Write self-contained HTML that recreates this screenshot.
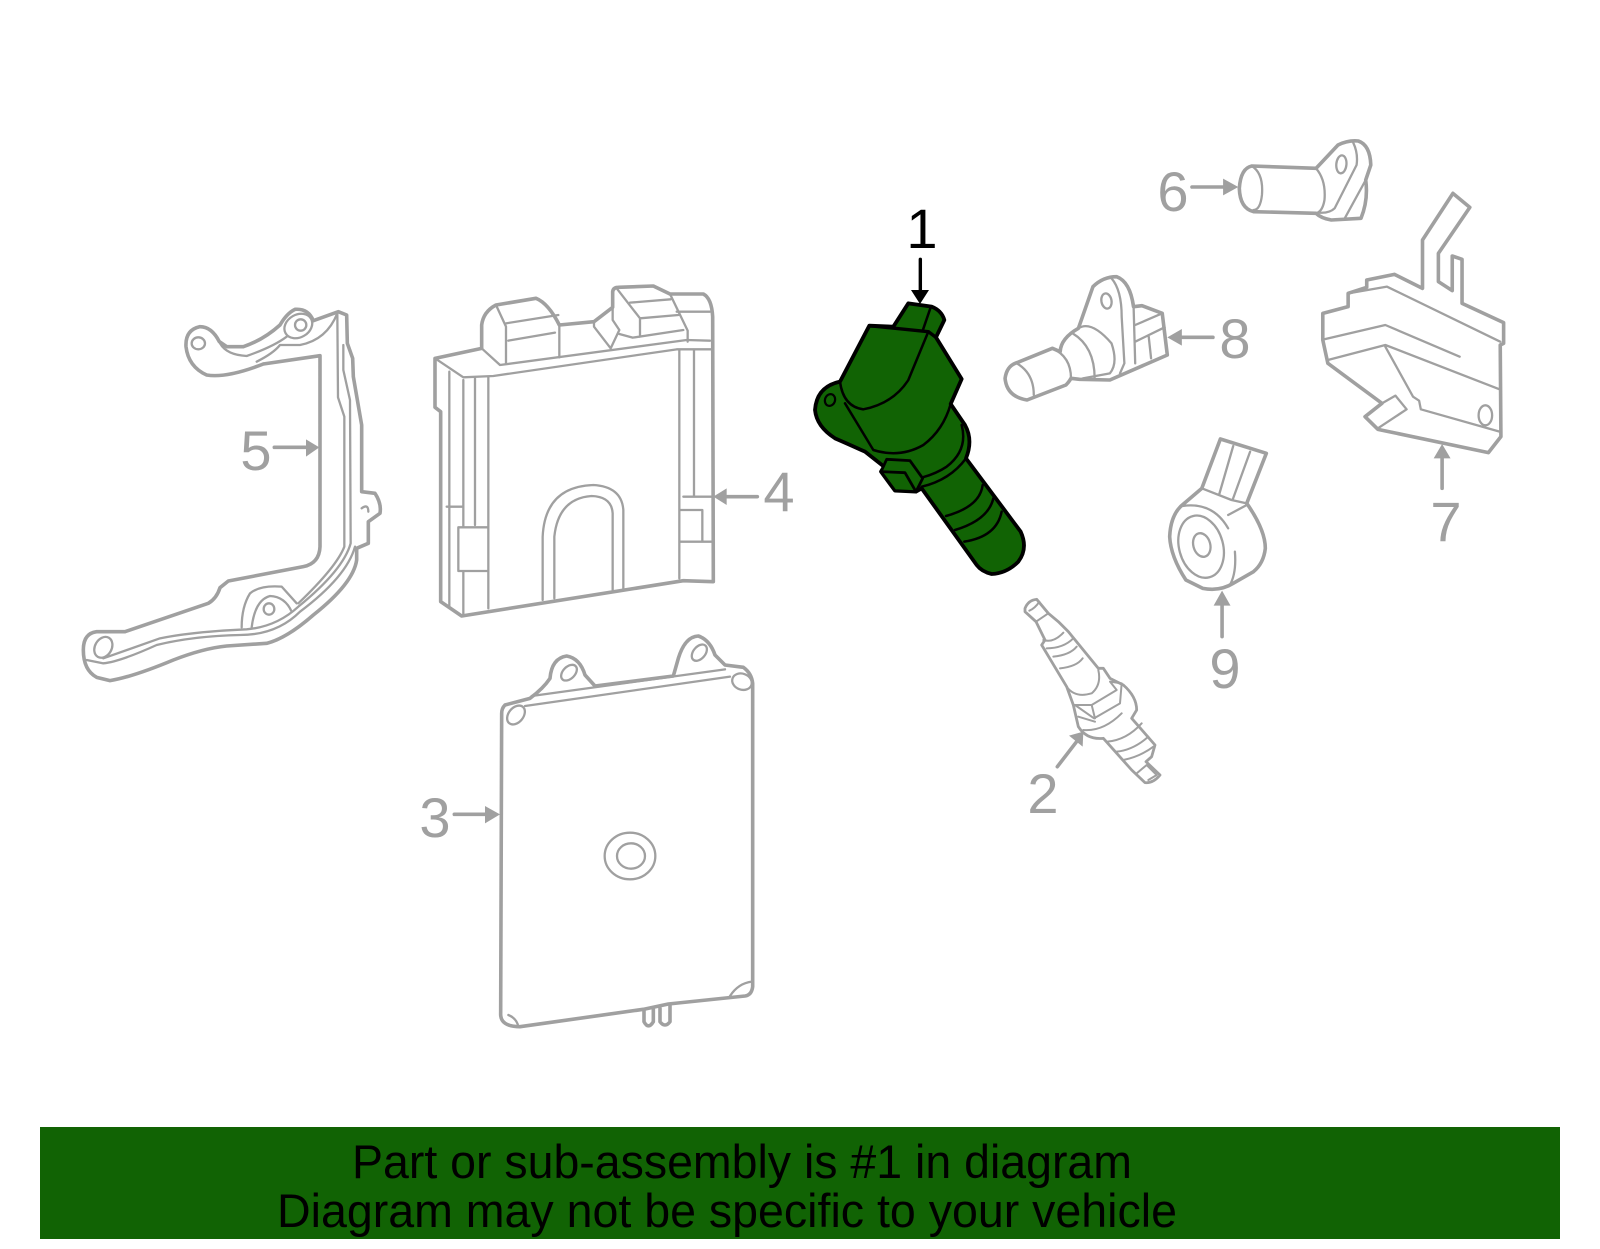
<!DOCTYPE html>
<html><head><meta charset="utf-8"><title>Diagram</title>
<style>
html,body{margin:0;padding:0;background:#fff}
svg{display:block}
text{font-family:"Liberation Sans",Arial,sans-serif}
.g path,.g ellipse{fill:none;stroke:#a0a0a0;vector-effect:non-scaling-stroke;stroke-linejoin:round;stroke-linecap:round}
.o{stroke-width:3.6px}
.i{stroke-width:2.3px}
.k path,.k ellipse{fill:none;stroke:#000;vector-effect:non-scaling-stroke;stroke-linejoin:round;stroke-linecap:round}
</style></head><body>
<svg width="1600" height="1249" viewBox="0 0 1600 1249" xmlns="http://www.w3.org/2000/svg">
<rect width="1600" height="1249" fill="#fff"/>

<!-- Part 5 -->
<g class="g" transform="translate(60,290) scale(.33333)">
<path class="o" d="M610,222 L780,197 L780,770 Q778,820 730,830 L505,873 L480,893 Q470,925 445,940 L195,1025 L110,1025 Q70,1030 70,1080 Q70,1140 110,1162 L150,1172 Q220,1160 340,1110 Q430,1075 500,1068 L620,1060 Q680,1045 760,975 Q880,880 890,810 L890,775 L925,760 L925,695 L960,670 Q965,640 945,610 L905,605 L905,405 L880,260 L878,205 L862,160 L860,75 L835,65 L760,92 Q745,55 705,58 Q680,70 660,105 Q610,150 550,170 L500,170 L478,155 Q455,110 420,110 Q375,120 378,170 Q385,230 440,255 Q500,265 610,222"/>
<path class="i" d="M832,70 L834,322 L853,380 L853,770 Q830,830 715,940"/>
<path class="i" d="M850,165 L850,240 L870,330 L872,760 Q850,840 715,950 Q650,1010 560,1018 Q400,1025 300,1045 L130,1105"/>
<path class="i" d="M885,770 Q860,860 720,965 Q650,1035 540,1035 Q400,1038 290,1065 Q180,1115 130,1120 L80,1110"/>
<path class="i" d="M480,160 Q500,195 560,198 Q640,170 680,140 M590,215 Q640,190 660,165 L720,165 Q800,150 832,70"/>
<path class="i" d="M545,1012 Q545,950 570,910 Q600,885 665,890 L710,940 M575,1012 Q585,930 630,918 Q675,920 695,965 M905,655 Q925,640 925,665"/>
<ellipse class="i" cx="415" cy="160" rx="20" ry="18"/>
<ellipse class="i" cx="722" cy="105" rx="17" ry="17"/>
<ellipse class="i" cx="715" cy="108" rx="44" ry="34" transform="rotate(-30 715 108)"/>
<ellipse class="i" cx="130" cy="1072" rx="25" ry="33" transform="rotate(30 130 1072)"/>
<ellipse class="i" cx="627" cy="957" rx="16" ry="17"/>
<path style="stroke:none;fill:#a0a0a0" d="M738,448 L778,472 L738,500 Z"/>
<path class="o" d="M643,472 L740,472"/>
</g>
<text x="256" y="470" font-size="56" text-anchor="middle" fill="#a0a0a0">5</text>

<!-- Part 4 -->
<g class="g" transform="translate(420,270) scale(.33333)">
<path class="o" d="M45,265 L185,235 L185,165 Q190,125 228,105 L348,85 Q385,100 418,165 L522,155 L578,112 L578,65 Q580,52 595,52 L700,48 L750,72 L850,72 Q875,85 878,140 L880,935 L790,932 L125,1038 L62,995 L62,425 L45,412 Z"/>
<path class="i" d="M45,265 L130,322 L220,318 L770,238 L875,238 M185,235 L240,285 L800,210 L870,212"/>
<path class="i" d="M228,105 L258,170 L258,280 M258,160 L415,135 M265,212 L405,188 M418,165 L418,262"/>
<path class="i" d="M522,155 L522,170 L572,235 L598,180 L578,150 L578,112 M590,55 L660,145 L660,200 M630,98 L752,88 M750,72 L803,182 L803,215 M660,145 L775,135 M770,125 L870,125 M598,192 L638,203 L790,180"/>
<path class="i" d="M88,305 L88,1010 M130,330 L130,770 M165,325 L165,765 M205,320 L205,1015 M115,772 H205 M115,772 V903 H205 M130,905 L130,1035 M80,710 H130"/>
<path class="i" d="M778,240 V925 M822,240 V680 M790,680 H880 M782,720 H847 V815 M782,815 H878"/>
<path class="i" d="M368,990 V800 Q375,650 520,645 Q605,650 610,720 V955 M403,985 V800 Q415,685 515,678 Q575,680 578,730 V960"/>
<path style="stroke:none;fill:#a0a0a0" d="M880,680 L920,655 L920,705 Z"/>
<path class="o" d="M1012,680 L915,680"/>
</g>
<text x="779" y="511" font-size="56" text-anchor="middle" fill="#a0a0a0">4</text>

<!-- Part 3 -->
<g class="g" transform="translate(410,630) scale(.33333)">
<path class="o" d="M285,225 L360,205 Q400,175 420,145 Q425,85 470,78 Q510,85 525,135 L555,168 L790,138 L805,85 Q825,20 865,18 Q900,30 915,75 L945,105 L1000,112 Q1025,130 1028,160 L1028,1070 Q1025,1095 1005,1098 L775,1122 L700,1138 L330,1190 Q270,1190 272,1150 L275,250 Q275,235 285,225 Z"/>
<path class="i" d="M345,228 L960,140 M365,198 L945,118 M960,1098 Q985,1060 1025,1055 M295,1155 Q320,1165 325,1190"/>
<path class="o" d="M702,1138 V1175 Q715,1200 730,1175 V1135 M750,1135 V1175 Q765,1195 780,1175 V1125"/>
<ellipse class="i" cx="318" cy="255" rx="32" ry="22" transform="rotate(-50 318 255)"/>
<ellipse class="i" cx="996" cy="155" rx="30" ry="24" transform="rotate(20 996 155)"/>
<ellipse class="i" cx="477" cy="128" rx="28" ry="18" transform="rotate(-45 477 128)"/>
<ellipse class="i" cx="868" cy="68" rx="28" ry="18" transform="rotate(-50 868 68)"/>
<ellipse class="i" cx="660" cy="678" rx="76" ry="70"/>
<ellipse class="i" cx="663" cy="678" rx="42" ry="38"/>
<path style="stroke:none;fill:#a0a0a0" d="M225,528 L270,553 L225,580 Z"/>
<path class="o" d="M133,553 L228,553"/>
</g>
<text x="435" y="837" font-size="56" text-anchor="middle" fill="#a0a0a0">3</text>

<!-- Parts 6, 8, 7 -->
<g class="g" transform="translate(1000,130) scale(.338,.33333)">
<path class="o" d="M745,108 L935,115 L1000,45 Q1030,30 1060,33 Q1095,45 1097,105 L1082,150 Q1090,210 1068,265 L980,270 Q950,265 935,250 L750,245 Q710,235 708,175 Q712,115 745,108 Z"/>
<path class="i" d="M745,108 Q780,130 775,195 Q770,240 750,240 M935,115 Q965,150 960,210 Q955,240 940,248 M1045,38 Q1060,70 1055,105 L990,235 Q975,250 945,248 M1082,150 L1020,265"/>
<ellipse class="i" cx="1010" cy="103" rx="15" ry="27" transform="rotate(5 1010 103)"/>
<path style="stroke:none;fill:#a0a0a0" d="M660,146 L705,171 L660,196 Z"/>
<path class="o" d="M568,171 L662,171"/>

<path class="o" d="M45,700 L155,655 L178,665 Q180,625 232,595 L275,470 Q305,440 345,440 Q385,455 395,530 L420,527 L480,550 L495,675 L325,750 L235,748 L210,745 Q205,755 195,765 L80,810 Q20,800 15,745 Q20,710 45,700 Z"/>
<path class="i" d="M50,700 Q100,730 100,795 M155,655 Q210,680 210,745 M215,610 Q280,650 280,745 M232,595 Q270,570 330,640 Q350,700 325,730 L245,745 M330,445 Q360,480 360,560 L368,700 L355,730 M395,520 L400,700 M400,585 L480,550 M400,635 L487,592 M440,620 L447,685"/>
<ellipse class="i" cx="315" cy="513" rx="15" ry="23" transform="rotate(-10 315 513)"/>
<path style="stroke:none;fill:#a0a0a0" d="M495,622 L538,597 L538,647 Z"/>
<path class="o" d="M630,622 L536,622"/>

<path class="o" d="M1340,190 L1390,232 L1297,370 L1297,455 L1338,482 L1338,378 L1367,388 L1367,520 L1490,578 L1490,640 L1480,645 L1482,920 L1445,968 L1118,898 L1080,860 L1130,820 L970,700 L955,630 L955,550 L1030,530 L1030,490 L1085,472 L1085,450 L1167,433 L1250,475 L1250,330 Z"/>
<path class="i" d="M1118,895 L1203,838 L1170,797 L1130,820"/>
<path class="i" d="M1030,490 L1145,470 L1480,635 M958,628 L1140,585 L1360,680 M970,690 L1140,645 L1478,778 M1140,650 L1222,800 L1240,812 L1245,838 L1478,905"/>
<ellipse class="i" cx="1436" cy="856" rx="20" ry="30"/>
</g>
<text x="1173" y="211" font-size="56" text-anchor="middle" fill="#a0a0a0">6</text>
<text x="1235" y="358" font-size="56" text-anchor="middle" fill="#a0a0a0">8</text>

<!-- Parts 9, 7 arrow -->
<g class="g" transform="translate(1000,420) scale(.338,.33333)">
<path style="stroke:none;fill:#a0a0a0" d="M1283,115 L1308,72 L1333,115 Z"/>
<path class="o" d="M1308,205 L1308,112"/>
<path class="o" d="M652,57 L788,100 L730,250 Q785,330 785,385 Q780,430 750,455 L690,490 Q650,515 600,505 L550,480 Q505,410 502,350 Q505,280 545,250 L597,205 Z"/>
<path class="i" d="M597,205 L685,240 L730,250 M690,78 L648,225 M740,95 L688,240 M730,255 L675,285 M540,258 Q630,245 675,325 M695,395 Q700,460 680,495"/>
<ellipse class="i" cx="595" cy="380" rx="65" ry="95" transform="rotate(-15 595 380)"/>
<ellipse class="i" cx="597" cy="375" rx="25" ry="36" transform="rotate(-15 597 375)"/>
<path style="stroke:none;fill:#a0a0a0" d="M632,557 L657,512 L682,557 Z"/>
<path class="o" d="M657,650 L657,552"/>
</g>

<!-- Part 2 -->
<g class="g" transform="translate(1020,590) scale(.33333)">
<path class="o" style="stroke-width:2.8px" d="M15,55 Q25,30 50,28 L85,70 L115,95 L145,125 L235,235 L250,235 L270,265 L310,285 Q350,320 350,360 L335,385 L405,465 L395,500 L378,515 L420,555 Q400,580 375,578 L335,540 L250,445 Q200,450 175,410 L160,345 L140,290 L65,165 L75,150 L48,95 L15,65 Z"/>
<path class="i" style="stroke-width:2px" d="M28,62 Q45,55 58,35 M48,95 L85,70 M70,150 Q100,160 130,128 M80,175 Q130,175 160,145 M100,200 Q150,195 170,170 M120,235 Q170,230 188,205 M140,290 Q165,325 215,310 Q245,285 235,240 M165,345 L222,385 L300,340 L305,280 L270,275 L290,300 L215,345 L225,385 M165,345 L215,345 M175,380 L225,395 M190,420 Q250,425 305,370 M262,455 Q320,450 365,400 M290,485 Q340,480 385,440 M310,510 Q360,500 400,470 M350,550 L380,525 L410,555 L385,570"/>
<path style="stroke:none;fill:#a0a0a0" d="M147,437 L190,425 L188,470 Z"/>
<path class="o" d="M112,530 L172,452"/>
</g>
<text x="1043" y="813" font-size="56" text-anchor="middle" fill="#a0a0a0">2</text>

<text x="1446" y="541" font-size="56" text-anchor="middle" fill="#a0a0a0">7</text>
<text x="1225" y="688" font-size="56" text-anchor="middle" fill="#a0a0a0">9</text>

<!-- Part 1 -->
<g class="k" transform="translate(780,190) scale(.33333)">
<path style="fill:#116304;stroke-width:3.8px" d="M340,410 L385,340 L455,350 Q485,362 493,390 L468,442 L545,567 L512,642 L555,705 Q580,750 558,805 L722,1025 Q745,1075 715,1115 Q680,1150 635,1152 Q605,1145 590,1125 L425,895 L408,905 L345,902 L303,845 L312,830 L255,785 Q200,760 165,745 Q110,710 105,660 Q110,590 180,575 L268,407 Z"/>
<path style="stroke-width:3.4px" d="M268,407 L445,425 L468,442"/>
<path style="stroke-width:2.5px" d="M445,425 Q410,510 385,570 Q340,640 250,658 Q190,650 180,575 M512,642 Q490,720 430,765 Q360,805 280,780 L195,640 M452,352 L428,422"/>
<path style="stroke-width:2.8px;fill:#116304" d="M320,808 L390,812 L428,865 L408,905 L345,902 L303,845 Z"/>
<path style="stroke-width:2.8px" d="M305,845 L375,848 L408,905"/>
<path style="stroke-width:2.5px" d="M545,705 Q565,780 500,830 Q470,850 428,862 M425,890 Q510,870 558,805 M608,885 Q600,950 498,978 M640,925 Q625,990 525,1020 M665,965 Q650,1040 553,1055"/>
<ellipse style="stroke-width:2.2px" cx="150" cy="630" rx="15" ry="18" transform="rotate(20 150 630)"/>
<path style="stroke:none;fill:#000" d="M393,300 L447,300 L420,342 Z"/>
<path style="stroke-width:3.4px" d="M421,208 L421,305"/>
</g>
<text x="922" y="248" font-size="56" text-anchor="middle" fill="#000">1</text>

<!-- Banner -->
<rect x="40" y="1127" width="1520" height="112" fill="#116304"/>
<text x="352" y="1178" font-size="47" fill="#000" textLength="780" lengthAdjust="spacingAndGlyphs">Part or sub-assembly is #1 in diagram</text>
<text x="277" y="1227" font-size="47" fill="#000" textLength="900" lengthAdjust="spacingAndGlyphs">Diagram may not be specific to your vehicle</text>
</svg>
</body></html>
